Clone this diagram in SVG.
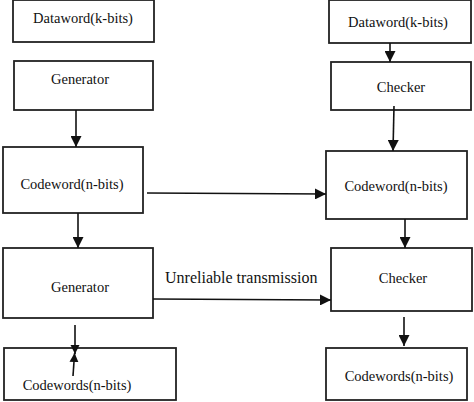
<svg xmlns="http://www.w3.org/2000/svg" width="474" height="402" viewBox="0 0 474 402">
<style>
.box{fill:#fff;stroke:#222;stroke-width:1.8}
.t{font-size:14.5px;fill:#111;text-anchor:middle}
.c{stroke:#111;stroke-width:1.6;fill:none;marker-end:url(#ah)}
</style>
<defs>
<marker id="ah" viewBox="0 0 10 10" refX="10" refY="5" markerWidth="11" markerHeight="11" markerUnits="userSpaceOnUse" orient="auto">
<path d="M0,0 L10,5 L0,10 z" fill="#111"/>
</marker>
<marker id="ah2" viewBox="0 0 10 10" refX="10" refY="5" markerWidth="9" markerHeight="11" markerUnits="userSpaceOnUse" orient="auto">
<path d="M0,0 L10,5 L0,10 z" fill="#111"/>
</marker>
</defs>
<rect width="474" height="402" fill="#fff"/>
<g font-family="Liberation Serif, Times New Roman, serif">
<g id="dataword-left"><rect class="box" x="13" y="0" width="141" height="42"/><text class="t" x="83" y="23">Dataword(k-bits)</text></g>
<g id="generator-top"><rect class="box" x="14" y="61" width="139" height="49"/><text class="t" x="80" y="84">Generator</text></g>
<g id="codeword-left"><rect class="box" x="3" y="147" width="140" height="66"/><text class="t" x="72" y="189">Codeword(n-bits)</text></g>
<g id="generator-bottom"><rect class="box" x="3" y="248" width="150" height="70"/><text class="t" x="80" y="292">Generator</text></g>
<g id="codewords-left"><rect class="box" x="4" y="348" width="172" height="52"/><text class="t" x="77" y="390">Codewords(n-bits)</text></g>
<g id="dataword-right"><rect class="box" x="329" y="0" width="142" height="43"/><text class="t" x="398" y="27">Dataword(k-bits)</text></g>
<g id="checker-top"><rect class="box" x="331" y="62" width="140" height="48"/><text class="t" x="401" y="92">Checker</text></g>
<g id="codeword-right"><rect class="box" x="326" y="151" width="141" height="68"/><text class="t" x="396" y="191">Codeword(n-bits)</text></g>
<g id="checker-bottom"><rect class="box" x="331" y="248" width="141" height="63"/><text class="t" x="403" y="283">Checker</text></g>
<g id="codewords-right"><rect class="box" x="326" y="348" width="141" height="52"/><text class="t" x="399" y="381">Codewords(n-bits)</text></g>
<g id="connectors">
<line class="c" x1="76" y1="110" x2="76" y2="147"/>
<line class="c" x1="78" y1="213" x2="78" y2="248"/>
<line class="c" style="marker-end:url(#ah2)" x1="75" y1="325" x2="75" y2="354"/>
<line class="c" style="marker-end:url(#ah2)" x1="73" y1="376" x2="74.6" y2="353"/>
<line class="c" x1="147" y1="193" x2="326" y2="194"/>
<line class="c" x1="153" y1="299" x2="331" y2="300"/>
<line class="c" x1="390" y1="43" x2="390" y2="62"/>
<line class="c" x1="394" y1="106" x2="393" y2="151"/>
<line class="c" x1="405" y1="219" x2="405" y2="248"/>
<line class="c" x1="404" y1="317" x2="404" y2="346"/>
<text x="165" y="283" font-size="16" fill="#111">Unreliable transmission</text>
</g>
</g>
</svg>
